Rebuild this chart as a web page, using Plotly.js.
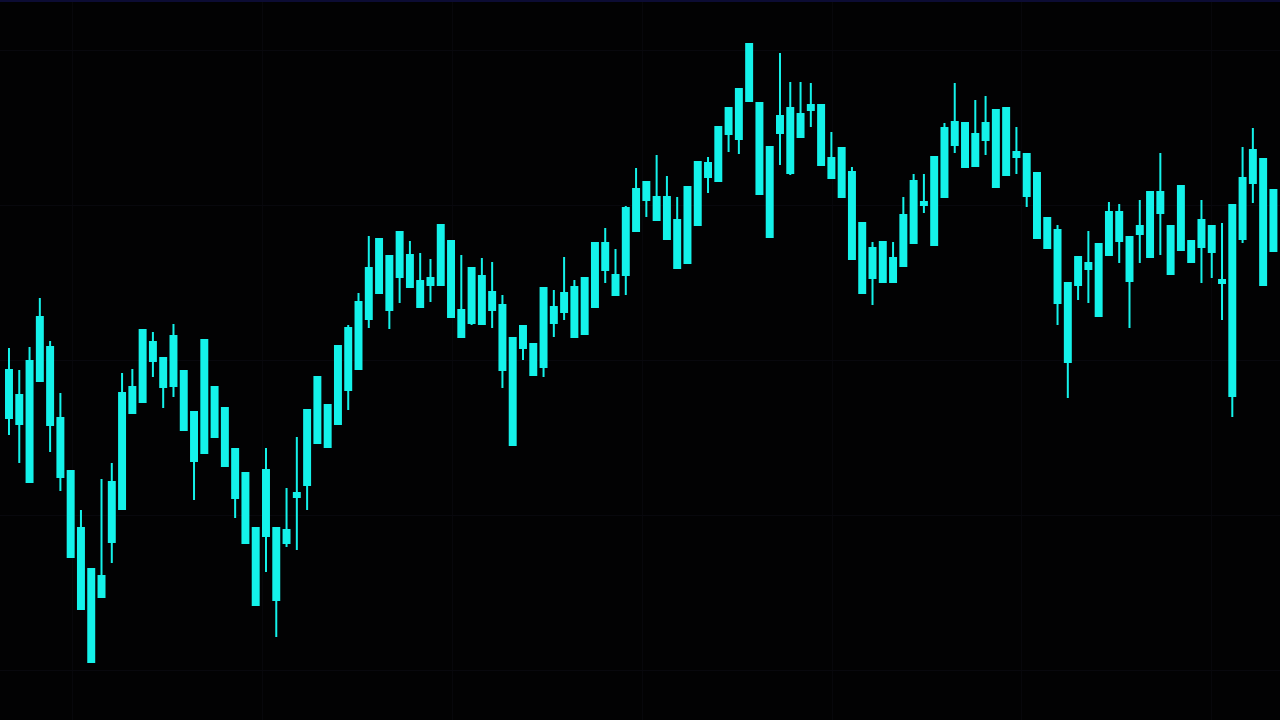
<!DOCTYPE html>
<html>
<head>
<meta charset="utf-8">
<script src="https://cdn.plot.ly/plotly-3.0.1.min.js"></script>
<style>
  html, body { margin: 0; padding: 0; background: #020203; overflow: hidden; }
  #chart { width: 1280px; height: 720px; }
</style>
</head>
<body>
<div id="chart"></div>
<script>
// Candle index (one per session)
const sessions = Array.from({length: 124}, (_, i) => i);

const openPrices = [130.2,132.5,135.9,133.9,137.3,130.2,124.9,119.2,115.1,112.3,
117.8,121.1,130.7,131.8,135.9,136.2,133.4,134.9,130.8,126.7,
133.3,131.2,127.1,124.7,119.2,118.4,119.2,117.7,122.3,123.5,
127.7,131.5,129.6,133.0,135.1,140.1,142.7,146.4,144.3,146.5,
143.9,143.5,143.5,147.9,141.0,139.7,144.4,142.8,141.5,138.2,
137.2,137.6,135.3,139.7,140.8,143.3,138.6,141.3,145.0,144.5,
144.5,148.9,152.0,152.3,152.3,150.0,145.7,149.5,154.3,153.9,
158.6,158.1,161.9,161.7,157.3,158.7,161.2,158.3,161.0,161.5,
156.2,157.2,154.8,149.7,147.2,143.8,146.2,145.4,147.7,151.5,
147.5,152.3,157.5,159.7,158.6,158.0,161.0,154.5,156.8,156.6,
154.7,150.2,149.0,143.7,143.5,145.1,147.6,146.5,147.9,148.3,
148.6,146.3,150.7,149.4,147.0,147.9,147.3,149.4,144.0,151.5,
148.1,153.7,156.1,146.9];

const highPrices = [137.2,135.0,137.3,142.2,137.9,132.7,124.9,121.0,115.1,124.1,
125.7,134.7,135.1,139.0,138.8,136.2,139.6,134.9,130.8,138.0,
133.3,131.2,127.1,124.7,119.2,127.2,119.2,123.2,128.3,131.0,
134.3,131.5,137.4,139.5,142.7,148.4,148.2,146.4,148.8,147.9,
146.7,146.1,149.5,147.9,146.5,145.2,146.2,145.8,142.5,138.2,
139.4,137.6,143.2,143.0,146.3,144.0,144.2,147.7,149.2,147.1,
151.4,155.2,153.8,156.5,154.4,152.3,153.3,155.8,156.3,159.3,
161.2,163.1,167.6,161.7,157.3,166.7,163.8,163.8,163.7,161.5,
158.8,157.2,155.3,149.7,147.8,147.8,147.8,152.3,154.6,154.6,
156.3,159.7,163.7,159.7,162.0,162.4,161.0,161.2,159.3,156.6,
154.7,150.2,149.5,143.7,146.3,148.9,147.6,151.8,151.6,148.3,
152.0,152.8,156.7,149.4,153.4,147.9,152.0,149.4,149.7,151.5,
157.3,159.2,156.1,153.0];

const lowPrices = [128.5,125.7,123.8,133.9,126.8,122.9,116.3,111.1,105.8,112.3,
115.7,121.1,130.7,131.8,134.3,131.2,132.3,129.0,122.0,126.7,
128.3,125.4,120.2,117.7,111.5,114.8,108.3,117.3,117.0,121.0,
127.7,127.3,129.6,131.0,135.0,139.2,142.7,139.1,141.7,143.3,
141.3,141.8,143.5,140.3,138.3,139.5,139.6,139.2,133.2,127.5,
136.0,134.5,134.3,138.3,140.0,138.3,138.6,141.3,143.7,142.5,
142.5,148.9,150.3,150.0,148.1,145.2,145.7,149.5,152.7,153.9,
156.8,156.6,161.9,152.6,148.3,155.5,154.5,158.3,159.3,155.5,
154.2,152.3,146.1,142.7,141.5,143.8,143.8,145.4,147.7,150.7,
147.5,152.3,156.7,155.3,155.4,156.5,153.3,154.5,154.6,151.3,
148.2,147.2,139.5,132.2,142.0,141.7,140.4,146.5,145.7,139.2,
145.7,146.3,146.5,144.6,147.0,145.8,143.7,144.2,140.0,130.3,
147.7,151.7,143.5,146.9];

const closePrices = [135.0,129.6,123.8,140.3,129.5,124.3,116.3,111.1,105.8,114.4,
123.8,132.7,133.3,139.0,137.8,133.3,138.4,129.0,125.9,138.0,
128.3,125.4,122.2,117.7,111.5,125.0,112.0,119.0,122.7,131.0,
134.3,127.3,137.4,139.2,141.8,145.2,148.1,141.0,148.8,143.3,
141.3,144.2,149.5,140.3,138.3,145.2,139.6,141.0,135.0,127.5,
139.4,134.5,143.2,141.3,142.7,138.3,144.2,147.7,147.7,142.5,
151.2,153.1,153.8,150.0,148.1,145.2,153.3,155.8,155.7,159.3,
161.2,163.1,167.6,152.6,148.3,160.4,154.7,160.6,161.5,155.5,
154.2,152.3,146.1,142.7,144.2,147.8,143.8,150.5,153.9,151.8,
156.3,159.2,159.8,155.3,155.4,159.7,153.3,161.2,156.3,152.4,
148.2,147.2,141.7,135.8,146.3,145.7,140.4,150.8,150.8,143.9,
149.4,152.8,152.8,144.6,153.4,145.8,150.0,146.8,143.7,132.4,
154.2,157.0,143.5,153.0];

const CANDLE = '#14f2ea';

const trace = {
  type: 'candlestick',
  x: sessions,
  open: openPrices,
  high: highPrices,
  low: lowPrices,
  close: closePrices,
  whiskerwidth: 0,
  increasing: { line: { color: CANDLE, width: 2 }, fillcolor: CANDLE },
  decreasing: { line: { color: CANDLE, width: 2 }, fillcolor: CANDLE },
  hoverinfo: 'skip',
  showlegend: false
};

const layout = {
  width: 1280,
  height: 720,
  margin: { l: 0, r: 0, t: 0, b: 0, pad: 0 },
  paper_bgcolor: '#020203',
  plot_bgcolor: '#020203',
  showlegend: false,
  boxgap: 0.42,
  boxgroupgap: 0,
  xaxis: {
    range: [-0.875, 123.64],
    rangeslider: { visible: false },
    showticklabels: false,
    ticks: '',
    zeroline: false,
    showline: false,
    showgrid: true,
    gridcolor: '#07070b',
    gridwidth: 1,
    tick0: 80.06,
    dtick: 18.48,
    fixedrange: true
  },
  yaxis: {
    range: [100, 172],
    showticklabels: false,
    ticks: '',
    zeroline: false,
    showline: false,
    showgrid: true,
    gridcolor: '#08080d',
    gridwidth: 1,
    tick0: 105,
    dtick: 15.5,
    fixedrange: true
  },
  shapes: [
    { type: 'line', xref: 'paper', yref: 'paper', x0: 0, x1: 1, y0: 1, y1: 1,
      line: { color: '#0c0c34', width: 4 } }
  ]
};

Plotly.newPlot('chart', [trace], layout, { displayModeBar: false, staticPlot: true });
</script>
</body>
</html>
